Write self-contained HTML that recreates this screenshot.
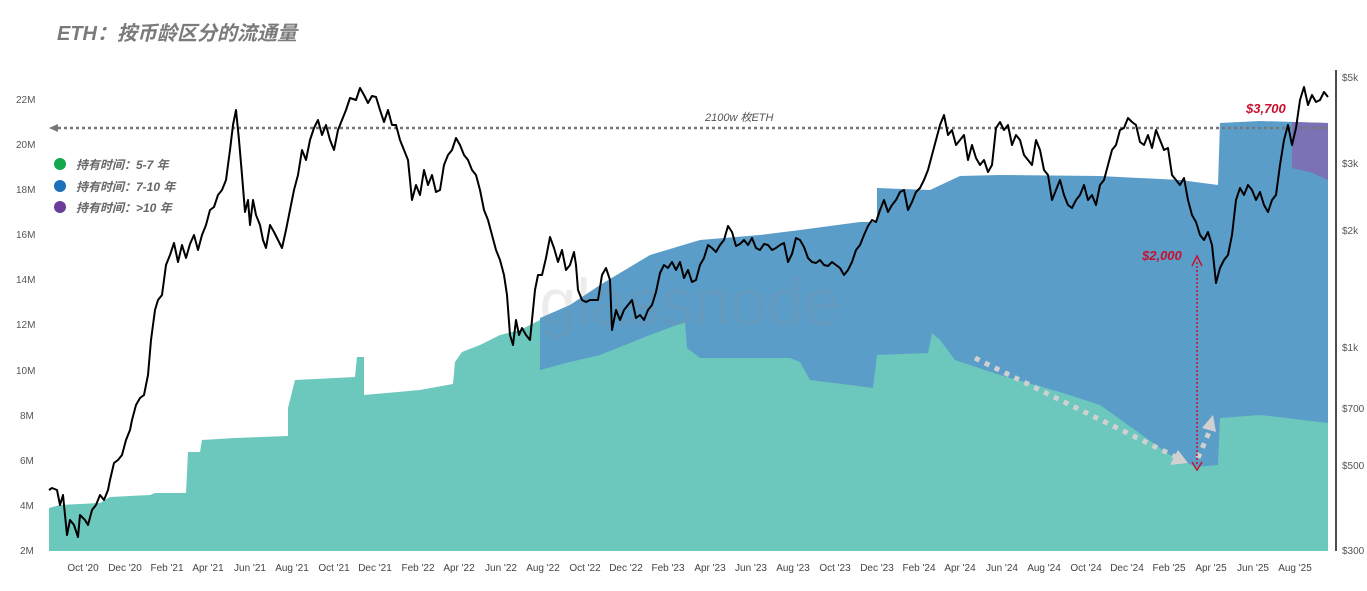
<!DOCTYPE html>
<html><head><meta charset="utf-8"><style>
body{margin:0;background:#fff;width:1367px;height:586px;overflow:hidden;font-family:"Liberation Sans","Noto Sans CJK SC",sans-serif}
</style></head><body>
<svg width="1367" height="586" viewBox="0 0 1367 586" xmlns="http://www.w3.org/2000/svg" font-family="Liberation Sans, Noto Sans CJK SC, sans-serif">
<text x="57" y="40" font-size="20" font-weight="bold" font-style="italic" fill="#7a7a7a">ETH：按币龄区分的流通量</text>
<!-- blue -->
<path fill="#5b9dc9" d="M540,318 L570,305 L600,285 L650,255 L700,240 L760,235 L800,230 L860,222 L877,222 L877,188 L930,190 L960,176 L1000,175 L1100,176 L1180,180 L1218,185 L1220,123 L1260,121 L1328,123 L1328,551 L540,551 Z"/>
<!-- teal -->
<path fill="#6cc7bd" d="M49,551 L49,508 L60,505 L100,503 L110,497 L150,495 L155,493 L186,493 L188,452 L200,452 L202,440 L235,438 L288,436 L288,408 L295,380 L355,377 L357,357 L364,357 L364,395 L420,390 L453,384 L455,362 L462,352 L480,345 L500,335 L520,330 L540,320 L540,370 L570,362 L600,355 L650,335 L685,322 L687,348 L700,358 L790,358 L800,362 L810,380 L873,388 L877,355 L928,353 L932,333 L940,340 L955,360 L1000,375 L1060,392 L1100,405 L1170,455 L1196,467 L1218,465 L1220,418 L1260,415 L1328,423 L1328,551 Z"/>
<!-- purple -->
<path fill="#7b72b5" d="M1292,122 L1328,123 L1328,180 L1310,172 L1292,168 Z"/>
<text x="690" y="325" font-size="66" fill="#888" opacity="0.15" text-anchor="middle">glassnode</text>
<!-- 2100w line -->
<line x1="58" y1="128" x2="1328" y2="128" stroke="#777" stroke-width="2.5" stroke-dasharray="3,3"/>
<path d="M49,128 L58,124 L58,132 Z" fill="#777"/>
<text x="705" y="121" font-size="11" font-style="italic" fill="#555">2100w 枚ETH</text>
<!-- price -->
<polyline fill="none" stroke="#000" stroke-width="2" stroke-linejoin="round" points="49,490 52,488 57,490 60,505 63,495 67,535 70,520 74,525 78,537 80,515 85,520 88,525 92,510 96,505 100,495 104,500 108,490 110,480 114,463 118,460 122,455 126,440 130,430 132,420 136,405 140,398 144,395 148,375 151,340 155,310 158,300 162,295 166,265 170,255 174,243 178,262 182,245 186,258 190,244 194,235 198,250 202,235 206,225 210,210 214,207 218,195 222,190 226,180 230,150 233,125 236,110 239,140 242,175 245,212 248,200 250,225 253,200 256,215 260,225 263,240 266,248 270,225 274,232 278,240 282,248 286,230 290,210 294,190 298,175 302,150 306,160 310,140 314,128 318,120 322,135 326,125 330,140 334,150 338,130 342,120 346,110 350,98 356,100 360,88 364,95 368,103 372,96 376,97 380,110 384,122 388,110 392,125 396,125 400,140 404,150 408,160 412,200 416,185 420,195 424,170 428,185 432,175 436,192 440,190 444,165 448,155 452,150 456,138 460,145 464,155 468,160 472,170 476,175 480,190 484,210 488,220 492,235 496,250 500,260 504,275 507,295 510,335 513,345 516,320 519,335 522,328 526,335 530,340 532,320 535,290 538,275 542,275 546,258 550,237 554,248 558,262 562,250 566,270 570,265 574,252 576,265 578,290 582,300 586,302 590,300 594,300 598,300 602,275 606,268 610,280 612,330 616,310 620,320 624,310 628,305 632,300 636,318 640,315 644,320 648,310 652,305 656,292 660,273 664,265 668,268 672,262 676,270 680,262 684,278 688,270 692,282 696,280 700,265 704,258 708,245 712,248 716,252 720,245 724,240 728,226 732,232 736,246 740,244 744,240 748,245 752,238 756,248 760,250 764,244 768,245 772,250 776,248 780,245 784,243 788,262 792,254 796,238 800,240 804,247 808,258 812,262 816,263 820,260 824,265 828,266 832,262 836,265 840,268 844,275 848,270 852,262 856,250 860,245 864,235 868,226 872,220 876,222 880,210 884,200 888,212 892,205 896,200 900,192 904,190 908,210 912,202 916,192 920,188 924,180 928,170 932,155 936,140 940,125 944,115 948,135 952,130 956,145 960,140 964,135 968,160 972,145 976,158 980,165 984,160 988,172 992,165 996,128 1000,122 1004,130 1008,125 1012,145 1016,135 1020,140 1024,155 1028,160 1032,165 1036,140 1040,150 1044,170 1048,175 1052,200 1056,190 1060,180 1064,195 1068,205 1072,208 1076,200 1080,195 1084,185 1088,200 1092,195 1096,205 1100,185 1104,180 1108,165 1112,150 1116,145 1120,130 1124,128 1128,118 1132,122 1136,125 1140,142 1144,145 1148,135 1152,148 1156,130 1160,140 1164,150 1168,148 1172,175 1176,180 1180,185 1184,178 1188,200 1192,215 1196,222 1200,235 1204,240 1208,232 1212,245 1216,283 1220,268 1224,260 1228,255 1232,235 1236,200 1240,188 1244,195 1248,185 1252,190 1256,200 1260,192 1264,205 1268,212 1272,200 1276,195 1280,165 1284,140 1288,125 1292,145 1296,128 1300,100 1304,87 1308,105 1312,95 1316,102 1320,100 1324,92 1328,97"/>
<!-- gray trend arrows -->
<line x1="975" y1="358" x2="1178" y2="458" stroke="#d0d0d0" stroke-width="5" stroke-dasharray="5,6"/>
<path d="M1188,463 L1170,465 L1178,450 Z" fill="#d0d0d0"/>
<line x1="1198" y1="458" x2="1210" y2="430" stroke="#d0d0d0" stroke-width="5" stroke-dasharray="5,6"/>
<path d="M1213,415 L1202,428 L1216,432 Z" fill="#d0d0d0"/>
<!-- red annotation -->
<line x1="1197" y1="262" x2="1197" y2="466" stroke="#c8102e" stroke-width="1.5" stroke-dasharray="2,2"/>
<path d="M1192,266 L1197,256 L1202,266" fill="none" stroke="#c8102e" stroke-width="1.5"/>
<path d="M1192,462 L1197,470 L1202,462" fill="none" stroke="#c8102e" stroke-width="1.5"/>
<text x="1142" y="260" font-size="13" font-weight="bold" font-style="italic" fill="#c8102e">$2,000</text>
<text x="1246" y="113" font-size="13" font-weight="bold" font-style="italic" fill="#c8102e">$3,700</text>
<!-- legend -->
<circle cx="60" cy="164" r="6" fill="#14a84e"/><text x="76" y="169" font-size="12" font-weight="bold" font-style="italic" fill="#666">持有时间：5-7 年</text>
<circle cx="60" cy="186" r="6" fill="#1c6fb8"/><text x="76" y="191" font-size="12" font-weight="bold" font-style="italic" fill="#666">持有时间：7-10 年</text>
<circle cx="60" cy="207" r="6" fill="#6a3d9a"/><text x="76" y="212" font-size="12" font-weight="bold" font-style="italic" fill="#666">持有时间：&gt;10 年</text>
<!-- left axis -->
<g font-size="10" fill="#555">
<text x="16" y="103">22M</text><text x="16" y="148">20M</text><text x="16" y="193">18M</text><text x="16" y="238">16M</text><text x="16" y="283">14M</text><text x="16" y="328">12M</text><text x="16" y="374">10M</text><text x="20" y="419">8M</text><text x="20" y="464">6M</text><text x="20" y="509">4M</text><text x="20" y="554">2M</text>
</g>
<!-- right axis -->
<line x1="1336" y1="70" x2="1336" y2="551" stroke="#111" stroke-width="1.5"/>
<g font-size="10" fill="#555">
<text x="1342" y="81">$5k</text><text x="1342" y="167">$3k</text><text x="1342" y="234">$2k</text><text x="1342" y="351">$1k</text><text x="1342" y="412">$700</text><text x="1342" y="469">$500</text><text x="1342" y="554">$300</text>
</g>
<!-- x axis -->
<g font-size="10" fill="#444" text-anchor="middle">
<text x="83" y="571">Oct '20</text><text x="125" y="571">Dec '20</text><text x="167" y="571">Feb '21</text><text x="208" y="571">Apr '21</text><text x="250" y="571">Jun '21</text><text x="292" y="571">Aug '21</text><text x="334" y="571">Oct '21</text><text x="375" y="571">Dec '21</text><text x="418" y="571">Feb '22</text><text x="459" y="571">Apr '22</text><text x="501" y="571">Jun '22</text><text x="543" y="571">Aug '22</text><text x="585" y="571">Oct '22</text><text x="626" y="571">Dec '22</text><text x="668" y="571">Feb '23</text><text x="710" y="571">Apr '23</text><text x="751" y="571">Jun '23</text><text x="793" y="571">Aug '23</text><text x="835" y="571">Oct '23</text><text x="877" y="571">Dec '23</text><text x="919" y="571">Feb '24</text><text x="960" y="571">Apr '24</text><text x="1002" y="571">Jun '24</text><text x="1044" y="571">Aug '24</text><text x="1086" y="571">Oct '24</text><text x="1127" y="571">Dec '24</text><text x="1169" y="571">Feb '25</text><text x="1211" y="571">Apr '25</text><text x="1253" y="571">Jun '25</text><text x="1295" y="571">Aug '25</text>
</g>
</svg>
</body></html>
